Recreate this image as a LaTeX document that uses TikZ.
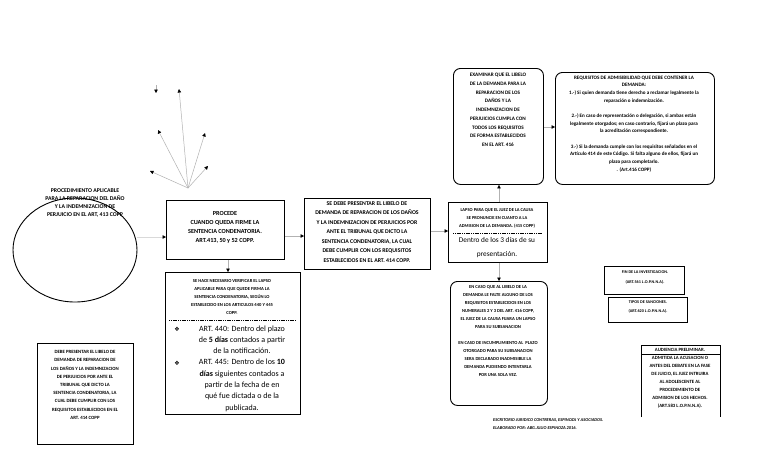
\documentclass[tikz,border=0pt]{standalone}
\usepackage{fontspec}
\setmainfont{Carlito}
\newfontfamily\djv{DejaVu Sans}
\usetikzlibrary{arrows.meta,shapes.geometric}
\newcommand\fsz[2]{\fontsize{#1}{#2}\selectfont}
\begin{document}
\begin{tikzpicture}[x=1pt,y=-1pt,
  box/.style={draw=black,line width=0.9pt,inner sep=0pt,anchor=north west},
  rbox/.style={box,rounded corners=7pt},
  thinbox/.style={draw=black,line width=0.7pt,inner sep=0pt,anchor=north west},
  conn/.style={draw=gray!60,line width=0.5pt,-{Triangle[length=3.5pt,width=3.5pt,color=black]}},
  txt/.style={align=center,inner sep=0pt,font=\bfseries\fsz{5.8}{9.5}},
]
\fill[white] (0,0) rectangle (768,466);
\useasboundingbox (0,0) rectangle (768,466);

% ellipse
\node[draw,line width=0.9pt,ellipse,minimum width=124pt,minimum height=104pt,inner sep=0pt] (ell) at (75,250) {};
\node[txt,font=\bfseries\fsz{5.8}{8}] (ellT) at (85,203) {PROCEDIMIENTO APLICABLE\\PARA LA REPARACION DEL DAÑO\\Y LA INDEMNIZACION DE\\PERJUICIO EN EL ART, 413 COPP};

% star of arrows
\coordinate (hub) at (188,188);
\coordinate (s1) at (179,89);
\coordinate (s2) at (158,130);
\coordinate (s3) at (205,133);
\coordinate (s4) at (208,166);
\coordinate (s5) at (150,171);
\coordinate (s0a) at (156,85);
\coordinate (s0b) at (156,93);
\foreach \s in {s1,s2,s3,s4,s5} \draw[conn] (hub) -- (\s);
\draw[conn] (s0a) -- (s0b);

% PROCEDE
\node[box,minimum width=118pt,minimum height=59pt] (procede) at (166,200) {};
\node[txt,font=\bfseries\fsz{6.2}{9}] (procedeT) at (225,227) {PROCEDE\\CUANDO QUEDA FIRME LA\\SENTENCIA CONDENATORIA.\\ART.413, 50 y 52 COPP.};

% middle box
\node[box,minimum width=126pt,minimum height=71pt] (mid) at (304,198) {};
\node[txt,font=\bfseries\fsz{5.8}{9.5}] (midT) at (367,232) {SE DEBE PRESENTAR EL LIBELO DE\\DEMANDA DE REPARACION DE LOS DAÑOS\\Y LA INDEMNIZACION DE PERJUICIOS POR\\ANTE EL TRIBUNAL QUE DICTO LA\\SENTENCIA CONDENATORIA, LA CUAL\\DEBE CUMPLIR CON LOS REQUISITOS\\ESTABLECIDOS EN EL ART. 414 COPP.};

% LAPSO box
\node[box,minimum width=99pt,minimum height=60pt] (lapso) at (448,202) {};
\node[txt,font=\bfseries\fsz{4.5}{8}] (lapsoT) at (497,218) {LAPSO PARA QUE EL JUEZ DE LA CAUSA\\SE PRONUNCIE EN CUANTO A LA\\ADMISION DE LA DEMANDA. (415 COPP)};
\draw[black,line width=0.4pt,dash pattern=on 1.2pt off 0.6pt] (453,233) -- (542,233);
\node[txt,font=\fsz{7.3}{14}] (lapsoB) at (497,248) {Dentro de los 3 días de su\\presentación.};

% EXAMINAR box
\node[rbox,minimum width=90pt,minimum height=116pt] (exam) at (453,68) {};
\node[txt,font=\bfseries\fsz{5.2}{8.7}] (examT) at (498,110) {EXAMINAR QUE EL LIBELO\\DE LA DEMANDA PARA LA\\REPARACION DE LOS\\DAÑOS Y LA\\INDEMNIZACION DE\\PERJUICIOS CUMPLA CON\\TODOS LOS REQUISITOS\\DE FORMA ESTABLECIDOS\\EN EL ART. 416};

% REQUISITOS box
\node[rbox,minimum width=159pt,minimum height=112pt] (req) at (555,72) {};
\node[txt,font=\bfseries\fsz{5.1}{7.67}] (reqT) at (634,124) {REQUISITOS DE ADMISIBILIDAD QUE DEBE CONTENER LA\\DEMANDA:\\1.-) Si quien demanda tiene derecho a reclamar legalmente la\\reparación o indemnización.\\[7.67pt]2.-) En caso de representación o delegación, si ambas están\\legalmente otorgados; en caso contrario, fijará un plazo para\\la acreditación correspondiente.\\[7.67pt]3.-) Si la demanda cumple con los requisitos señalados en el\\Artículo 414 de este Código. Si falta alguno de ellos, fijará un\\plazo para completarlo.\\. (Art.416 COPP)};

% EN CASO box
\node[rbox,minimum width=97pt,minimum height=124pt] (caso) at (450,281) {};
\node[txt,font=\bfseries\fsz{4.6}{8}] (casoT) at (498,331) {EN CASO QUE AL LIBELO DE LA\\DEMANDA LE FALTE ALGUNO DE LOS\\REQUISITOS ESTABLECIDOS EN LOS\\NUMERALES 2 Y 3 DEL ART. 416 COPP,\\EL JUEZ DE LA CAUSA FIJARA UN LAPSO\\PARA SU SUBSANACION\\[8pt]EN CASO DE INCUMPLIMIENTO AL\ \ PLAZO\\OTORGADO PARA SU SUBSANACION\\SERA DECLARADO INADMISIBLE LA\\DEMANDA PUDIENDO INTENTARLA\\POR UNA SOLA VEZ.};

% lower box under PROCEDE
\node[box,minimum width=135pt,minimum height=142pt] (verif) at (165,272) {};
\node[txt,font=\bfseries\fsz{4.6}{8}] (verifT) at (232,297) {SE HACE NECESARIO VERIFICAR EL LAPSO\\APLICABLE PARA QUE QUEDE FIRMA LA\\SENTENCIA CONDENATORIA, SEGÚN LO\\ESTABLECIDO EN LOS ARTICULOS 440 Y 445\\COPP.};
\draw[black,line width=0.4pt,dash pattern=on 1.2pt off 0.6pt] (169,320) -- (296,320);
\node[inner sep=0pt,font=\djv\fsz{6}{6}] (b1) at (177,329) {❖};
\node[inner sep=0pt,font=\djv\fsz{6}{6}] (b2) at (177,363) {❖};
\node[txt,font=\fsz{8}{11.3}] (verifB) at (242,368.5) {ART. 440: Dentro del plazo\\de \textbf{5} \textbf{días} contados a partir\\de la notificación.\\ART. 445: Dentro de los \textbf{10}\\\textbf{días} siguientes contados a\\partir de la fecha de en\\qué fue dictada o de la\\publicada.};

% bottom-left box
\node[box,minimum width=96pt,minimum height=101pt] (left) at (37,343) {};
\node[txt,font=\bfseries\fsz{4.8}{8.2}] (leftT) at (85,385) {DEBE PRESENTAR EL LIBELO DE\\DEMANDA DE REPARACION DE\\LOS DAÑOS Y LA INDEMNIZACION\\DE PERJUICIOS POR ANTE EL\\TRIBUNAL QUE DICTO LA\\SENTENCIA CONDENATORIA, LA\\CUAL DEBE CUMPLIR CON LOS\\REQUISITOS ESTABLECIDOS EN EL\\ART. 414 COPP};

% right small boxes
\node[thinbox,minimum width=80pt,minimum height=28pt] (fin) at (604,266) {};
\node[txt,font=\bfseries\fsz{4.2}{10}] (finT) at (645,277) {FIN DE LA INVESTIGACION.\\(ART.561 L.O.P.N.N.A).};
\node[thinbox,minimum width=79pt,minimum height=25pt] (tipos) at (608,297) {};
\node[txt,font=\bfseries\fsz{4.2}{8.5}] (tiposT) at (648,307) {TIPOS DE SANCIONES.\\(ART.620 L.O.P.N.N.A).};

% audiencia (open bottom)
\coordinate (audA) at (641,417);
\coordinate (audB) at (641,345);
\coordinate (audC) at (720,345);
\coordinate (audD) at (720,417);
\draw[black,line width=0.7pt] (audA) -- (audB) -- (audC) -- (audD);
\coordinate (audL) at (641,354);
\coordinate (audR) at (720,354);
\draw[black,line width=0.5pt] (audL) -- (audR);
\node[txt,font=\bfseries\fsz{4.8}{8}] (audT) at (680,350) {AUDIENCIA PRELIMINAR.};
\node[txt,font=\bfseries\fsz{4.8}{8}] (audB2) at (680,382) {ADMITIDA LA ACUSACION O\\ANTES DEL DEBATE EN LA FASE\\DE JUICIO, EL JUEZ INTRUIRA\\AL ADOLESCENTE AL\\PROCEDIMIENTO DE\\ADMISION DE LOS HECHOS.\\(ART.583 L.O.P.N.N.A).};

% footer
\node[inner sep=0pt,anchor=west,align=left,font=\bfseries\itshape\fsz{4.4}{8}] (foot) at (493,424) {ESCRITORIO JURIDICO CONTRERAS, ESPINOZA Y ASOCIADOS.\\ELABORADO POR: ABG.JULIO ESPINOZA 2016.};

% connectors
\draw[conn,draw=gray!30] (ell.east |- 0,237) -- (procede.west |- 0,237);
\draw[conn] (procede.east |- 0,236) -- (mid.west |- 0,236);
\draw[conn] (mid.east |- 0,231) -- (lapso.west |- 0,231);
\draw[conn] (procede.south -| 228,0) -- (verif.north -| 228,0);
\draw[conn] (lapso.north -| 499,0) -- (exam.south -| 499,0);
\draw[conn] (lapso.south -| 499,0) -- (caso.north -| 499,0);
\draw[conn] (exam.east |- 0,127) -- (req.west |- 0,127);
\end{tikzpicture}
\end{document}
